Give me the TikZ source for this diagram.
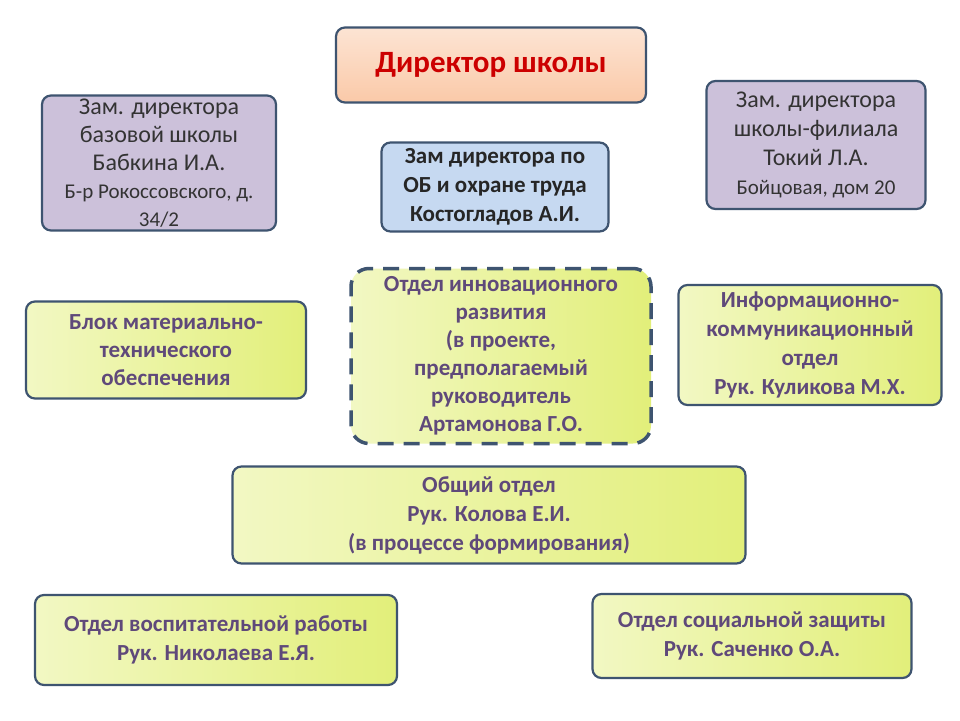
\documentclass[tikz,border=0pt]{standalone}
\usepackage{fontspec}
\setmainfont{Carlito}
\usetikzlibrary{shadings}
\definecolor{bord}{HTML}{3E5470}
\definecolor{txt}{HTML}{5F497A}
\definecolor{lav}{HTML}{CCC1DA}
\definecolor{lblue}{HTML}{C6D9F1}
\definecolor{ygreen}{HTML}{E2EF7A}
\definecolor{peach}{HTML}{FAC9A8}
\tikzset{
  box/.style={draw=bord, line width=2.2pt, rounded corners=9pt, align=center, inner sep=0pt, font=\fontsize{24}{28}\selectfont},
  grn/.style={box, left color=ygreen!45!white, right color=ygreen, text=txt, font=\bfseries\fontsize{23}{28}\selectfont},
  lv/.style={box, fill=lav, text=black!80},
}
\begin{document}
\begin{tikzpicture}[x=1pt,y=-1pt]
\useasboundingbox (0,0) rectangle (960,720);
\fill[white] (0,0) rectangle (960,720);
\node[box, top color=peach!50!white, bottom color=peach, text=red!80!black, font=\bfseries\fontsize{31}{34}\selectfont, minimum width=310, minimum height=75] (dir) at (491,65) {Директор школы};
\node[lv, minimum width=234, minimum height=135] (base) at (159,163) {Зам. директора\\базовой школы\\Бабкина И.А.\\{\fontsize{21}{26}\selectfont Б-р Рокоссовского, д.}\\{\fontsize{21}{26}\selectfont 34/2}};
\node[box, fill=lblue, text=black!85, font=\bfseries\fontsize{23}{29}\selectfont, minimum width=227, minimum height=89] (ob) at (495,187) {Зам директора по\\ОБ и охране труда\\Костогладов А.И.};
\node[lv, minimum width=219, minimum height=128, font=\fontsize{24}{29}\selectfont] (fil) at (816,145) {Зам. директора\\школы-филиала\\Токий Л.А.\\{\fontsize{21}{26}\selectfont Бойцовая, дом 20}};
\node[grn, minimum width=280, minimum height=97] (mt) at (166,350) {Блок материально-\\технического\\обеспечения};
\node[grn, minimum width=300, minimum height=175, line width=3.5pt, dash pattern=on 16pt off 10pt, rounded corners=18pt] (inn) at (501,356) {Отдел инновационного\\развития\\(в проекте,\\предполагаемый\\руководитель\\Артамонова Г.О.};
\node[grn, minimum width=263, minimum height=120, font=\bfseries\fontsize{23}{29}\selectfont] (ik) at (810,345) {Информационно-\\коммуникационный\\отдел\\Рук. Куликова М.Х.};
\node[grn, minimum width=513, minimum height=97, font=\bfseries\fontsize{23}{29}\selectfont] (ob2) at (489,515) {Общий отдел\\Рук. Колова Е.И.\\(в процессе формирования)};
\node[grn, minimum width=362, minimum height=90, font=\bfseries\fontsize{23}{29}\selectfont] (vr) at (216,640) {Отдел воспитательной работы\\Рук. Николаева Е.Я.};
\node[grn, minimum width=319, minimum height=84, font=\bfseries\fontsize{23}{29}\selectfont] (sz) at (752,636) {Отдел социальной защиты\\Рук. Саченко О.А.};
\end{tikzpicture}
\end{document}
